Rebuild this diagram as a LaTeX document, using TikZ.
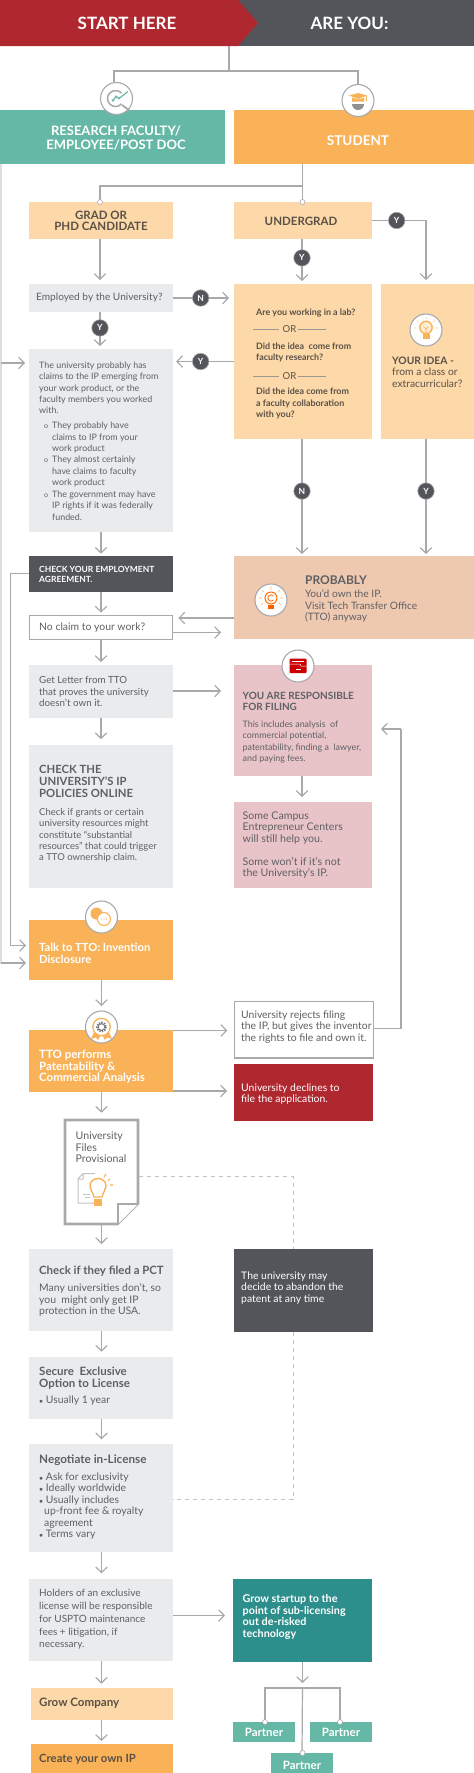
\documentclass[tikz,border=0pt]{standalone}
\usepackage{fontspec}
\setmainfont{Lato}
\usetikzlibrary{fit,arrows.meta,shapes.geometric}
\definecolor{ln}{HTML}{A7A9AC}
\definecolor{rail}{HTML}{DDDEE0}
\definecolor{dk}{HTML}{53555A}
\definecolor{rd}{HTML}{AF272F}
\definecolor{tl}{HTML}{66B8A6}
\definecolor{tld}{HTML}{2C8F8B}
\definecolor{or}{HTML}{F9B258}
\definecolor{lo}{HTML}{FDD9A9}
\definecolor{gy}{HTML}{EAEBEC}
\definecolor{sal}{HTML}{EFC8B0}
\definecolor{pk}{HTML}{E8C4C8}
\definecolor{txt}{HTML}{5F6064}
\definecolor{ink}{HTML}{5A5046}
\newcommand\fsz[2]{\fontsize{#1}{#2}\selectfont}
\newcommand\bx[6]{\node[fit={(#2,#3)(#4,#5)},inner sep=0pt,outer sep=0pt,#6] (#1) {};}
\newcommand\tx[5]{\node[#4] (#1) at (#2,#3) {#5};}
\tikzset{
 x=1pt,y=-1pt,
 fillgy/.style={fill=gy},
 filllo/.style={fill=lo},
 fillor/.style={fill=or},
 fillpk/.style={fill=pk},
 fillsal/.style={fill=sal},
 filldk/.style={fill=dk},
 filltl/.style={fill=tl},
 fillrd/.style={fill=rd},
 filltd/.style={fill=tld},
 outl/.style={draw=ln,line width=1.3pt,fill=white},
 lbl/.style={inner sep=0pt,anchor=west,align=left,text=txt,font=\fsz{10.4}{11.4}},
 small/.style={lbl,font=\fsz{8.9}{11.35}},
 mid/.style={lbl,font=\fsz{9.5}{11.4}},
 lblb/.style={lbl,font=\fsz{11.4}{11.8}\bfseries},
 wlb/.style={lbl,text=white,font=\fsz{11.2}{11.4}\bfseries},
 wl/.style={lbl,text=white},
 inkb/.style={inner sep=0pt,align=center,text=ink,font=\fsz{11.5}{10.8}\bfseries},
 qtext/.style={lbl,text=ink,font=\fsz{8.9}{11.4}\bfseries},
 head/.style={inner sep=0pt,text=white,font=\fsz{17}{20}\bfseries},
 role/.style={inner sep=0pt,align=center,text=white,font=\fsz{13}{13.4}\bfseries},
 part/.style={inner sep=0pt,text=white,font=\fsz{11.5}{12}\bfseries},
 conn/.style={draw=ln,line width=1.2pt},
 arr/.style={conn,-{Straight Barb[length=5.5pt,width=11.5pt,line width=1.2pt]}},
 badge/.style={circle,fill=dk,draw=ln,line width=.6pt,minimum size=16.5pt,inner sep=0pt,text=white,font=\fsz{8.5}{9}\bfseries},
 dot/.style={circle,fill=white,draw=ln,line width=.6pt,minimum size=5pt,inner sep=0pt},
 icon/.style={circle,fill=white,draw=ln,line width=1.1pt,minimum size=32pt,inner sep=0pt},
 dashline/.style={draw=ln!70,line width=1pt,dash pattern=on 4pt off 4pt},
}
\begin{document}
\begin{tikzpicture}
\useasboundingbox (0,0) rectangle (474,1773);
% header
\bx{areyou}{0}{0}{474}{46}{filldk}
\fill[rd] (0,0) -- (238,0) -- (258,23) -- (238,46) -- (0,46) -- cycle;
\tx{tstart}{127}{23}{head}{START HERE}
\tx{tare}{349.5}{23}{head}{ARE YOU:}
% main boxes
\bx{fac}{0}{110}{224.7}{164}{filltl}
\bx{stu}{233.5}{110}{474}{164}{fillor}
\tx{tfac}{116}{138}{role}{RESEARCH FACULTY/\\EMPLOYEE/POST DOC}
\tx{tstu}{358}{140.5}{role,font=\fsz{13.5}{15}\bfseries}{STUDENT}
\bx{grad}{29}{202}{172.7}{239}{filllo}
\tx{tgrad}{101}{221}{inkb}{GRAD OR\\PHD CANDIDATE}
\bx{und}{233.5}{202}{371.7}{239}{filllo}
\tx{tund}{301}{221}{inkb}{UNDERGRAD}
\bx{emp}{29}{284}{172.7}{312}{fillgy}
\tx{temp}{36}{298}{lbl,font=\fsz{10.1}{11.4}}{Employed by the University?}
\bx{ques}{233.5}{284}{372}{439}{filllo}
\tx{tq1}{256}{313}{qtext}{Are you working in a lab?}
\tx{tor1}{289.5}{329}{lbl,anchor=center,text=ink,font=\fsz{9.6}{11}}{OR}
\tx{tq2}{256}{352.5}{qtext}{Did the idea\ \ come from\\faculty research?}
\tx{tor2}{289.5}{376.5}{lbl,anchor=center,text=ink,font=\fsz{9.6}{11}}{OR}
\tx{tq3}{256}{403.5}{qtext}{Did the idea come from\\a faculty collaboration\\with you?}
\bx{idea}{381}{284}{474}{439}{filllo}
\tx{tid}{392}{372}{lbl,text=ink,font=\fsz{10.3}{11.4}}{\textbf{YOUR IDEA -}\\from a class or\\extracurricular?}
\bx{univ}{29}{349}{172.7}{532}{fillgy}
\tx{tuniv}{39}{388}{small}{The university probably has\\claims to the IP emerging from\\your work product, or the\\faculty members you worked\\with.}
\tx{tl1}{44}{437.5}{small}{\makebox[8pt][l]{\fsz{7}{8}o}They probably have\\\hspace*{8pt}claims to IP from your\\\hspace*{8pt}work product}
\tx{tl2}{44}{471.5}{small}{\makebox[8pt][l]{\fsz{7}{8}o}They almost certainly\\\hspace*{8pt}have claims to faculty\\\hspace*{8pt}work product}
\tx{tl3}{44}{505.5}{small}{\makebox[8pt][l]{\fsz{7}{8}o}The government may have\\\hspace*{8pt}IP rights if it was federally\\\hspace*{8pt}funded.}
\bx{chk}{29}{555.7}{173}{591.7}{filldk}
\tx{tchk}{39}{574}{wlb,font=\fsz{8.5}{10}\bfseries}{CHECK YOUR EMPLOYMENT\\AGREEMENT.}
\bx{prob}{233.5}{556}{474}{638.7}{fillsal}
\tx{tp1}{305}{580}{lblb,text=txt,font=\fsz{12}{12}\bfseries}{PROBABLY}
\tx{tp2}{305}{606}{lbl,font=\fsz{10.2}{11.2}}{You'd own the IP.\\Visit Tech Transfer Office\\(TTO) anyway}
\bx{nc}{29.6}{615.6}{172.4}{639.6}{outl}
\tx{tnc}{39}{627.5}{lbl}{No claim to your work?}
\bx{let}{29}{664.5}{173}{717.5}{fillgy}
\tx{tlet}{39}{691.5}{lbl,font=\fsz{9.8}{11.4}}{Get Letter from TTO\\that proves the university\\doesn't own it.}
\bx{resp}{233.5}{664.5}{372}{776}{fillpk}
\tx{tr1}{242.5}{701.5}{lblb,font=\fsz{10}{11.4}\bfseries}{YOU ARE RESPONSIBLE\\FOR FILING}
\tx{tr2}{242.5}{742}{lbl,font=\fsz{8.9}{11.4}}{This includes analysis\ \ of\\commercial potential,\\patentability, finding a\ \ lawyer,\\and paying fees.}
\bx{pol}{29}{744.7}{173}{887.7}{fillgy}
\tx{tpa}{39}{781.5}{lblb,font=\fsz{11.3}{12}\bfseries}{CHECK THE\\UNIVERSITY'S IP\\POLICIES ONLINE}
\tx{tpb}{39}{835.5}{mid}{Check if grants or certain\\university resources might\\constitute ``substantial\\resources'' that could trigger\\a TTO ownership claim.}
\bx{camp}{233.5}{802}{372}{887.7}{fillpk}
\tx{tc1}{242.5}{828}{lbl,font=\fsz{10.6}{11.4}}{Some Campus\\Entrepreneur Centers\\will still help you.}
\tx{tc2}{242.5}{868}{lbl,font=\fsz{10.6}{11.4}}{Some won't if it's not\\the University's IP.}
\bx{talk}{29}{919.7}{173}{980}{fillor}
\tx{ttalk}{39}{953.5}{wlb}{Talk to TTO: Invention\\Disclosure}
\bx{tto}{29}{1030}{173}{1091.7}{fillor}
\tx{ttto}{39}{1067}{wlb,font=\fsz{11.5}{11.4}\bfseries}{TTO performs\\Patentability \&\\Commercial Analysis}
\bx{rej}{234.3}{1001.3}{373.7}{1058}{outl}
\tx{trej}{241}{1027}{lbl}{University rejects filing\\the IP, but gives the inventor\\the rights to file and own it.}
\bx{decl}{233.5}{1063.5}{372.5}{1120.5}{fillrd}
\tx{tdecl}{241}{1094}{wl}{University declines to\\file the application.}
\coordinate (dtop) at (101.5,1118.7);
\coordinate (dbot) at (101.5,1225);
\bx{pct}{29}{1249}{173}{1331}{fillgy}
\tx{tpcta}{39}{1271.5}{lblb}{Check if they filed a PCT}
\tx{tpctb}{39}{1300}{lbl}{Many universities don't, so\\you\ \ might only get IP\\protection in the USA.}
\bx{aban}{233.5}{1249}{372.5}{1331.5}{filldk}
\tx{taban}{241}{1288}{wl}{The university may\\decide to abandon the\\patent at any time}
\bx{sec}{29}{1356.7}{173}{1418.7}{fillgy}
\tx{tseca}{39}{1378}{lblb,font=\fsz{11.5}{11.6}\bfseries}{Secure\ \ Exclusive\\Option to License}
\tx{tsecb}{39}{1401}{lbl}{$\scriptstyle\bullet$ Usually 1 year}
\bx{neg}{29}{1444.3}{173}{1552}{fillgy}
\tx{tnega}{39}{1460}{lblb,font=\fsz{11.7}{12}\bfseries}{Negotiate in-License}
\tx{tnegb}{39}{1506}{lbl}{$\scriptstyle\bullet$ Ask for exclusivity\\$\scriptstyle\bullet$ Ideally worldwide\\$\scriptstyle\bullet$ Usually includes\\\hspace*{5pt}up-front fee \& royalty\\\hspace*{5pt}agreement\\$\scriptstyle\bullet$ Terms vary}
\bx{hold}{29}{1579.3}{173}{1661}{fillgy}
\tx{thold}{39}{1619.5}{lbl,font=\fsz{10}{12.8}}{Holders of an exclusive\\license will be responsible\\for USPTO maintenance\\fees + litigation, if\\necessary.}
\bx{star}{233}{1578.7}{372}{1662}{filltd}
\tx{tstar}{242.5}{1617}{wlb,font=\fsz{10.8}{11.4}\bfseries}{Grow startup to the\\point of sub-licensing\\out de-risked\\technology}
\bx{co}{31}{1687.7}{173}{1720}{filllo}
\tx{tco}{39}{1703}{lblb,text=ink,font=\fsz{11.6}{13}\bfseries}{Grow Company}
\bx{own}{30.5}{1744}{173}{1773}{fillor}
\tx{town}{39}{1759}{lblb,text=ink,font=\fsz{11.3}{13}\bfseries}{Create your own IP}
\bx{p1}{233}{1722}{295}{1741.5}{filltl}
\bx{p2}{310}{1721.5}{372}{1741.5}{filltl}
\bx{p3}{271}{1753}{333}{1773}{filltl}
\tx{tp1x}{264}{1732}{part}{Partner}
\tx{tp2x}{341}{1732}{part}{Partner}
\tx{tp3x}{302}{1765}{part}{Partner}
% named free ends
\coordinate (hub) at (229,71);
\coordinate (stuhub) at (302.5,186);
\coordinate (railtop) at (1,164);
\coordinate (railbot) at (1,964);
\coordinate (rail1) at (1,363);
\coordinate (rail2) at (1,963);
\coordinate (elb) at (10.5,945.5);
\coordinate (rej1) at (401,1028.5);
\coordinate (rej2) at (401,729);
\coordinate (dash1) at (293,1176.5);
\coordinate (dash2) at (293,1499.7);
\coordinate (phub) at (302.5,1688);
% connectors
\draw[rail,line width=2pt] (railtop) -- (railbot);
\draw[conn] (hub |- areyou.south) -- (hub);
\draw[conn] (114,82) |- (hub) ;
\draw[conn] (358,84) |- (hub);
\draw[conn] (stu.south -| stuhub) -- (und.north -| stuhub);
\draw[conn] (stuhub) -| (grad.north -| 100,0);
\draw[arr,shorten >=3pt] (und.south -| 302,0) -- node[badge,pos=.42]{Y} (ques.north -| 302,0);
\draw[arr,shorten >=4pt] (grad.south -| 100,0) -- (emp.north -| 100,0);
\draw[arr,shorten >=4pt] (und.east) -- node[badge,pos=.46]{Y} (und.east -| 426,0) -- (idea.north -| 426,0);
\draw[arr,shorten >=4.5pt] (emp.east) -- node[badge,pos=.46]{N} (ques.west |- emp.east);
\draw[arr,shorten >=3pt] (emp.south -| 100,0) -- node[badge,pos=.43]{Y} (univ.north -| 100,0);
\draw[arr,shorten >=3.5pt] (ques.west) -- node[badge,pos=.54]{Y} (ques.west -| univ.east);
\draw[arr,shorten >=4pt] (rail1) -- (rail1 -| univ.west);
\draw[arr,shorten >=2pt] (univ.south -| 101,0) -- (chk.north -| 101,0);
\draw[arr,line width=1.5pt,shorten >=2pt] (ques.south -| 302,0) -- node[badge,pos=.445]{N} (prob.north -| 302,0);
\draw[arr,line width=1.5pt,shorten >=2pt] (idea.south -| 426,0) -- node[badge,pos=.445]{Y} (prob.north -| 426,0);
\draw[arr,shorten >=3pt] (chk.south -| 101,0) -- (nc.north -| 101,0);
\draw[conn] (chk.west) -| (elb);
\draw[arr,shorten >=3pt] (elb) -- (elb -| talk.west);
\draw[arr,shorten >=3pt] (rail2) -- (rail2 -| talk.west);
\draw[arr,shorten >=6pt] (prob.west |- 0,618) -- (nc.east |- 0,618);
\draw[arr,shorten >=12.5pt] (nc.east |- 0,632.5) -- (prob.west |- 0,632.5);
\draw[arr,shorten >=2.5pt] (nc.south -| 101,0) -- (let.north -| 101,0);
\draw[arr,shorten >=12.5pt] (let.east |- 0,691) -- (resp.west |- 0,691);
\draw[arr,shorten >=5.5pt] (let.south -| 101,0) -- (pol.north -| 101,0);
\draw[arr,shorten >=5pt] (resp.south -| 302,0) -- (camp.north -| 302,0);
\draw[conn] (rej.east |- rej1) -- (rej1) -- (rej2);
\draw[arr,shorten >=9pt] (rej2) -- (rej2 -| resp.east);
\draw[arr,shorten >=4pt] (talk.south -| 101.5,0) -- (101.5,1010);
\draw[arr,shorten >=7pt] (tto.east |- 0,1030.5) -- (rej.west |- 0,1030.5);
\draw[arr,shorten >=6.5pt] (tto.east |- 0,1091) -- (decl.west |- 0,1091);
\draw[arr,shorten >=6pt] (tto.south -| 101.5,0) -- (dtop);
\draw[arr,shorten >=5pt] (dbot) -- (pct.north -| 101.5,0);
\draw[arr,shorten >=5pt] (pct.south -| 101.5,0) -- (sec.north -| 101.5,0);
\draw[arr,shorten >=5pt] (sec.south -| 101.5,0) -- (neg.north -| 101.5,0);
\draw[arr,shorten >=6pt] (neg.south -| 101.5,0) -- (hold.north -| 101.5,0);
\draw[arr,shorten >=4pt] (hold.south -| 101.5,0) -- (co.north -| 101.5,0);
\draw[arr,shorten >=3pt] (co.south -| 101.5,0) -- (own.north -| 101.5,0);
\draw[arr,shorten >=8pt] (hold.east |- 0,1615.5) -- (star.west |- 0,1615.5);
\draw[arr,shorten >=5pt] (star.south -| phub) -- (phub);
\draw[dashline] (139,1176.5) -- (dash1) -- (aban.north -| dash1);
\draw[dashline] (aban.south -| dash1) -- (dash2) -- (dash2 -| neg.east);
\draw[conn] (phub) -| (p1.north -| 265,0);
\draw[conn] (phub) -| (p2.north -| 340,0);
\draw[conn] (phub) -- (p3.north);
\node[dot] (d1) at (100,202) {};
\node[dot] (d2) at (302.5,202) {};
\node[dot] (d3) at (265,1722) {};
\node[dot] (d4) at (340,1722) {};
\node[dot] (d5) at (302.5,1753) {};
% icon circles
\node[icon] (icfac) at (116.5,98.5) {};
\node[icon] (icstu) at (358,100.5) {};
\node[icon] (icidea) at (426,330) {};
\node[icon] (icprob) at (271,600) {};
\node[icon] (icresp) at (298,666) {};
\node[icon] (ictalk) at (101.5,917) {};
\node[icon] (ictto) at (101.5,1027) {};
% OR rules
\draw[ink!60,line width=.5pt] (253,329) -- (279,329) (298,329) -- (326,329);
\draw[ink!60,line width=.5pt] (253,376.5) -- (279,376.5) (298,376.5) -- (326,376.5);
% document outline
\draw[ln,line width=2.6pt,line join=miter,fill=white] (65,1120) -- (138,1120) -- (138,1203.5) -- (117.5,1224) -- (65,1224) -- cycle;
\draw[ln,line width=2.2pt,fill=white] (118,1224) -- (118,1204) -- (138,1204);
\tx{tdoc}{75.5}{1147.5}{lbl,font=\fsz{10.6}{11.4}}{University\\Files\\Provisional}
% icons: research (y axis points down, so arcs start from the lower end)
\draw[ln,line width=1.5pt] (121.45,103.85) arc (42:318:8);
\draw[ln,line width=1.8pt] (122,105) -- (129.5,110.5);
\draw[tl,line width=1.2pt] (113,100.5) -- (116,96.5) -- (119,98.5) -- (128,91.5);
\fill[tl] (113,100.5) circle (1.4) (116,96.5) circle (1.1) (119,98.5) circle (1.1);
% icons: student
\fill[or] (349,95.5) -- (358,93) -- (367,95.5) -- (358,99) -- cycle;
\fill[or] (352,97.5) -- (358,99.5) -- (364,97.5) -- (364,101.5) -- (352,101.5) -- cycle;
\draw[or,line width=.8pt] (366,96) -- (366,101);
\fill[ln!85!black] (352,104) -- (364,104) arc (0:180:6) -- cycle;
% icons: idea
\draw[or,line width=1.4pt,fill=or!25] (426,327.5) circle (6.2);
\fill[or] (422.5,334) rectangle (429.5,339);
\draw[or,line width=.7pt] (426,334) -- (426,329) (426,329) -- (423.5,326.5) (426,329) -- (428.5,326.5);
\draw[or!75,line width=.6pt] (426,319) -- (426,317) (433.5,322) -- (435,320.5) (418.5,322) -- (417,320.5) (436,328) -- (438,328) (416,328) -- (414,328);
% icons: probably
\draw[orange!85!red,line width=1pt] (271,598) circle (6);
\draw[orange!85!red,line width=.8pt] (273.45,600.05) arc (40:320:3.2);
\fill[orange!75!red] (268,605) rectangle (274,609);
\draw[orange!60,line width=.6pt] (271,589.5) -- (271,586.5) (278,592) -- (280,590) (264,592) -- (262,590) (280,598) -- (283,598) (262,598) -- (259,598) (279,603) -- (281,605) (263,603) -- (261,605);
% icons: responsible
\fill[red!80!black,rounded corners=1pt] (289.5,658.5) rectangle (306.5,673);
\draw[white,line width=.8pt] (292,661.5) -- (304,661.5) (296,669.5) -- (301,669.5);
\draw[white,line width=.5pt] (289.5,664) -- (300,664) -- (301,666) -- (306.5,666);
% icons: talk
\fill[or] (96.5,913.5) circle (6);
\draw[or,line width=1.1pt,fill=white] (104,919) circle (6.5);
\fill[or] (101.5,919) circle (.7) (104,919) circle (.7) (106.5,919) circle (.7);
% icons: tto
\fill[or] (94.5,1031) -- (91,1039) -- (96,1037.5) -- (98,1040) -- (101.5,1034) -- (105,1040) -- (107,1037.5) -- (112,1039) -- (108.5,1031) -- cycle;
\draw[or,line width=1.3pt,fill=white] (101.5,1027) circle (8.7);
\draw[dk!80,line width=2pt,dash pattern=on 1.4pt off 1.1pt] (101.5,1027) circle (4.4);
\draw[dk!80,line width=.7pt] (101.5,1027) circle (3.2);
% icons: document
\draw[ln!70,line width=1pt,line join=round] (83,1173.5) -- (95,1173.5) (78,1179) -- (83,1173.5) -- (83,1179) -- (78,1179) -- (78,1203) -- (95,1203);
\draw[ln!70,line width=1pt] (83,1194) -- (90,1194) (85,1197) -- (90,1197);
\draw[or,line width=1.4pt,fill=white] (94,1197) .. controls (93,1192) and (90,1190) .. (90,1186) .. controls (90,1176) and (106,1176) .. (106,1186) .. controls (106,1190) and (103,1192) .. (102,1197) -- cycle;
\fill[or] (94,1199) rectangle (102,1206);
\draw[or,line width=1.2pt] (106,1174) -- (104,1177) (110,1179) -- (108,1180.5) (113,1185) -- (110,1185);
\end{tikzpicture}
\end{document}
